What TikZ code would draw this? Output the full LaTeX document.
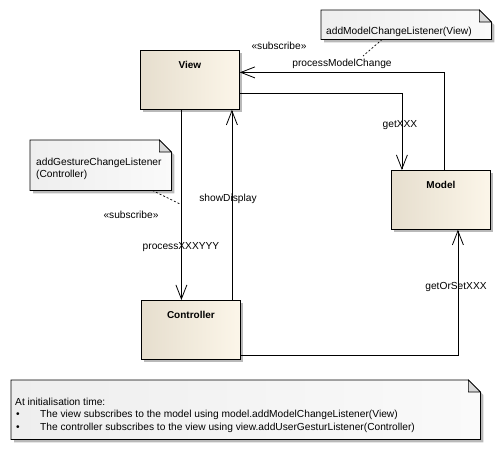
\documentclass[tikz,border=0pt]{standalone}
\usepackage{fontspec}
\setmainfont{Liberation Sans}
\usetikzlibrary{arrows.meta,calc,shadows}
\definecolor{boxL}{RGB}{230,222,206}
\definecolor{boxR}{RGB}{252,246,233}
\definecolor{noteL}{RGB}{238,238,238}
\definecolor{noteR}{RGB}{250,250,250}
\definecolor{foldC}{RGB}{215,215,215}
\definecolor{shadowC}{RGB}{185,185,185}
\newcommand\drawnote[1]{%
  \fill[shadowC] ([shift={(3pt,-3pt)}]#1.south west) -- ([shift={(3pt,-3pt)}]#1.north west) -- ([shift={(-9pt,-3pt)}]#1.north east) -- ([shift={(3pt,-15pt)}]#1.north east) -- ([shift={(3pt,-3pt)}]#1.south east) -- cycle;
  \shadedraw[left color=noteL, right color=noteR, line width=0.8pt] (#1.south west) -- (#1.north west) -- ([xshift=-12pt]#1.north east) -- ([yshift=-12pt]#1.north east) -- (#1.south east) -- cycle;
  \filldraw[fill=foldC, line width=0.6pt] ([xshift=-12pt]#1.north east) -- ([shift={(-12pt,-12pt)}]#1.north east) -- ([yshift=-12pt]#1.north east) -- cycle;
}
\begin{document}
\begin{tikzpicture}[x=1pt,y=-1pt,
  every node/.style={font=\fontsize{10.2}{12}\selectfont, inner sep=0pt},
  classbox/.style={draw=black, line width=0.8pt, left color=boxL, right color=boxR,
    minimum width=99pt, minimum height=59pt, anchor=north west,
    drop shadow={shadow xshift=3pt, shadow yshift=-3pt, fill=shadowC, opacity=1}},
  boxtitle/.style={anchor=base, font=\fontsize{10}{12}\selectfont\bfseries},
  notebg/.style={anchor=north west},
  lbl/.style={anchor=base},
  conn/.style={line width=0.8pt, -{Straight Barb[length=14pt,width=11pt]}},
  notelink/.style={line width=0.7pt, dash pattern=on 2pt off 2pt}
]
\useasboundingbox (0,0) rectangle (500,450);

% classes
\node[classbox] (view) at (140,50) {};
\node[boxtitle] (viewt) at ([yshift=-18.5pt]view.north) {View};
\node[classbox] (model) at (391,170) {};
\node[boxtitle] (modelt) at ([yshift=-18.5pt]model.north) {Model};
\node[classbox] (ctrl) at (141,300) {};
\node[boxtitle] (ctrlt) at ([yshift=-18.5pt]ctrl.north) {Controller};

% connectors
\draw[conn] ([xshift=3pt]model.north) |- ([yshift=7.5pt]view.east);
\draw[conn] ([yshift=-13.5pt]view.east) -| ([xshift=-39pt]model.north);
\draw[conn] ([xshift=-8.5pt]view.south) -- ([xshift=-8.5pt]view.south |- ctrl.north);
\draw[conn] ([xshift=41pt]ctrl.north) -- ([xshift=41pt]ctrl.north |- view.south);
\draw[conn] ([yshift=-25.5pt]ctrl.east) -| ([xshift=17pt]model.south);

% connector labels
\node[lbl] (sub1) at (279,49) {«subscribe»};
\node[lbl] (pmc) at (342,66) {processModelChange};
\node[lbl] (gx) at (400,127) {getXXX};
\node[lbl] (sd) at (228,201) {showDisplay};
\node[lbl] (sub2) at (131,218) {«subscribe»};
\node[lbl] (pxy) at (181,249) {processXXXYYY};
\node[lbl] (gos) at (456,289) {getOrSetXXX};

% notes
\node[notebg, minimum width=170pt, minimum height=29pt] (n1) at (321,10) {};
\drawnote{n1}
\node[anchor=base west] (n1t) at (326,34.5) {addModelChangeListener(View)};

\node[notebg, minimum width=141pt, minimum height=50pt] (n2) at (30,140) {};
\drawnote{n2}
\node[anchor=base west] (n2a) at (36,165) {addGestureChangeListener};
\node[anchor=base west] (n2b) at (36,177) {(Controller)};

\node[notebg, minimum width=469pt, minimum height=59pt] (n3) at (11,380) {};
\drawnote{n3}
\node[anchor=base west] (n3a) at (15,405) {At initialisation time:};
\node[anchor=base west] (n3b1) at (16,417.5) {•};
\node[anchor=base west] (n3b) at (40,417.5) {The view subscribes to the model using model.addModelChangeListener(View)};
\node[anchor=base west] (n3c1) at (16,430) {•};
\node[anchor=base west] (n3c) at (40,430) {The controller subscribes to the view using view.addUserGesturListener(Controller)};

% note links
\coordinate (l1) at (363,56);
\draw[notelink] ([xshift=-24pt]n1.south) -- (l1);
\coordinate (l2) at (180,204);
\draw[notelink] ([xshift=-19pt]n2.south east) -- (l2);
\end{tikzpicture}
\end{document}
